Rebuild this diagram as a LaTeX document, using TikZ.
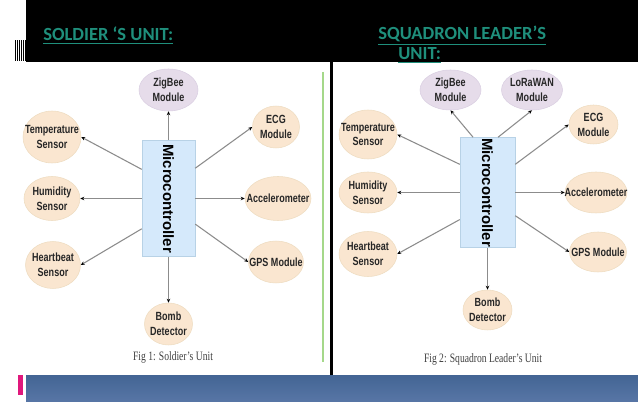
\documentclass[tikz,border=0pt]{standalone}
\usepackage{fontspec}
\usepackage{graphicx}
\setmainfont{Liberation Sans}
\newfontfamily\capfont{Liberation Serif}
\newfontfamily\titlefont{Carlito}
\usetikzlibrary{shapes.geometric,arrows.meta,calc}
\definecolor{peach}{HTML}{FAE6D0}
\definecolor{peachline}{HTML}{EEDCC0}
\definecolor{lilac}{HTML}{E6DCEA}
\definecolor{lilacline}{HTML}{DACFE2}
\definecolor{microfill}{HTML}{D5E9FB}
\definecolor{microline}{HTML}{B8D2E6}
\definecolor{teal}{HTML}{1F8F7C}
\definecolor{bandtop}{HTML}{436594}
\definecolor{bandbot}{HTML}{5876A6}
\definecolor{panelgreen}{HTML}{A5D88A}
\definecolor{pinkbar}{HTML}{E0187C}
\newcommand{\nar}[1]{\scalebox{0.76}[1]{#1}}
\newcommand{\narcap}[1]{\scalebox{0.75}[1]{#1}}
\tikzset{
  lab/.style={inner sep=0pt,align=center,text=black!85,
    font=\bfseries\fontsize{8.9pt}{11.2pt}\selectfont},
  oval/.style 2 args={ellipse,inner sep=0pt,
    minimum width=#1*0.75pt,minimum height=#2*0.75pt},
  sensor/.style 2 args={oval={#1}{#2},fill=peach,draw=peachline},
  radio/.style 2 args={oval={#1}{#2},fill=lilac,draw=lilacline},
  mcu/.style 2 args={rectangle,fill=microfill,draw=microline,inner sep=0pt,
    text=black,font=\bfseries\fontsize{11.2pt}{13pt}\selectfont,
    minimum width=#1*0.75pt,minimum height=#2*0.75pt},
  link/.style={draw=black!45,line width=0.8pt,-{Stealth[length=3pt,width=2.6pt,black]}},
  heading/.style={text=teal,inner sep=0pt,align=left,anchor=base west,
    font=\titlefont\bfseries\fontsize{13.9pt}{15pt}\selectfont},
  figcap/.style={inner sep=0pt,text=black!75,font=\capfont\fontsize{9.6pt}{10pt}\selectfont},
}
\begin{document}
\begin{tikzpicture}[x=0.75pt,y=-0.75pt]
\useasboundingbox (0,0) rectangle (638,402);
\fill[white] (0,0) rectangle (638,402);
% slide frame
\fill[black] (26,0) rectangle (638,62);
\fill[black] (330,62) rectangle (333,375);
\shade[top color=bandtop,bottom color=bandbot] (26,375) rectangle (638,402);
\fill[pinkbar] (18,375) rectangle (23,395);
\foreach \b in {15,17,19,21,23,25} \fill[black] (\b,40) rectangle (\b+1.1,61);
\draw[panelgreen,line width=0.8pt] (323,72) -- (323,362);
% headings
\node[heading] (t1) at (43,41) {\underline{SOLDIER ‘S UNIT:}};
\node[heading] (t2) at (378,40) {\underline{SQUADRON LEADER’S}};
\node[heading] (t3) at (398,60) {\underline{UNIT:}};
% left diagram
\node[mcu={53}{116}] (m) at (168.5,198.5) {\rotatebox{-90}{Microcontroller}};
\node[radio={59}{42},label={[lab]center:{\nar{ZigBee}\\\nar{Module}}}] (zig) at (168.5,90) {};
\node[sensor={58}{52},label={[lab]center:{\nar{Temperature}\\\nar{Sensor}}}] (temp) at (52,137) {};
\node[sensor={47}{42},label={[lab]center:{\nar{ECG}\\\nar{Module}}}] (ecg) at (276,127) {};
\node[sensor={56}{44},label={[lab]center:{\nar{Humidity}\\\nar{Sensor}}}] (hum) at (52,198.5) {};
\node[sensor={66}{44},label={[lab]center:{\nar{Accelerometer}}}] (acc) at (278,198.5) {};
\node[sensor={55}{47},label={[lab]center:{\nar{Heartbeat}\\\nar{Sensor}}}] (heart) at (53,265) {};
\node[sensor={55}{42},label={[lab]center:{\nar{GPS Module}}}] (gps) at (276,262) {};
\node[sensor={48}{42},label={[lab]center:{\nar{Bomb}\\\nar{Detector}}}] (bomb) at (168.5,324) {};
\node[figcap] (c1) at (173,357) {\narcap{Fig 1: Soldier’s Unit}};
\draw[link] (m.north) -- (zig.south);
\draw[link] ($(m.north west)!.25!(m.south west)$) -- (temp.east);
\draw[link] ($(m.north east)!.24!(m.south east)$) -- (ecg.west);
\draw[link] (m.west) -- (hum.east);
\draw[link] (m.east) -- (acc.west);
\draw[link] ($(m.north west)!.76!(m.south west)$) -- (heart.east);
\draw[link] ($(m.north east)!.72!(m.south east)$) -- (gps.west);
\draw[link] (m.south) -- (bomb.north);
% right diagram
\node[mcu={55}{110}] (n) at (487.5,192.5) {\rotatebox{-90}{Microcontroller}};
\node[radio={61}{40},label={[lab]center:{\nar{ZigBee}\\\nar{Module}}}] (zig2) at (450.5,90) {};
\node[radio={61}{40},label={[lab]center:{\nar{LoRaWAN}\\\nar{Module}}}] (lora) at (532,90) {};
\node[sensor={58}{49},label={[lab]center:{\nar{Temperature}\\\nar{Sensor}}}] (temp2) at (368,134.5) {};
\node[sensor={49}{39},label={[lab]center:{\nar{ECG}\\\nar{Module}}}] (ecg2) at (593.5,124.5) {};
\node[sensor={58}{41},label={[lab]center:{\nar{Humidity}\\\nar{Sensor}}}] (hum2) at (368,192.5) {};
\node[sensor={62}{41},label={[lab]center:{\nar{Accelerometer}}}] (acc2) at (596,192.5) {};
\node[sensor={58}{45},label={[lab]center:{\nar{Heartbeat}\\\nar{Sensor}}}] (heart2) at (368,254) {};
\node[sensor={57}{40},label={[lab]center:{\nar{GPS Module}}}] (gps2) at (598,252) {};
\node[sensor={49}{40},label={[lab]center:{\nar{Bomb}\\\nar{Detector}}}] (bomb2) at (487.5,310) {};
\node[figcap] (c2) at (483,359) {\narcap{Fig 2: Squadron Leader’s Unit}};
\draw[link] ($(n.north west)!.24!(n.north east)$) -- (zig2.south);
\draw[link] ($(n.north west)!.69!(n.north east)$) -- (lora.south);
\draw[link] ($(n.north west)!.245!(n.south west)$) -- (temp2.east);
\draw[link] ($(n.north east)!.245!(n.south east)$) -- (ecg2.west);
\draw[link] (n.west) -- (hum2.east);
\draw[link] (n.east) -- (acc2.west);
\draw[link] ($(n.north west)!.745!(n.south west)$) -- (heart2.east);
\draw[link] ($(n.north east)!.71!(n.south east)$) -- (gps2.west);
\draw[link] (n.south) -- (bomb2.north);
\end{tikzpicture}
\end{document}
